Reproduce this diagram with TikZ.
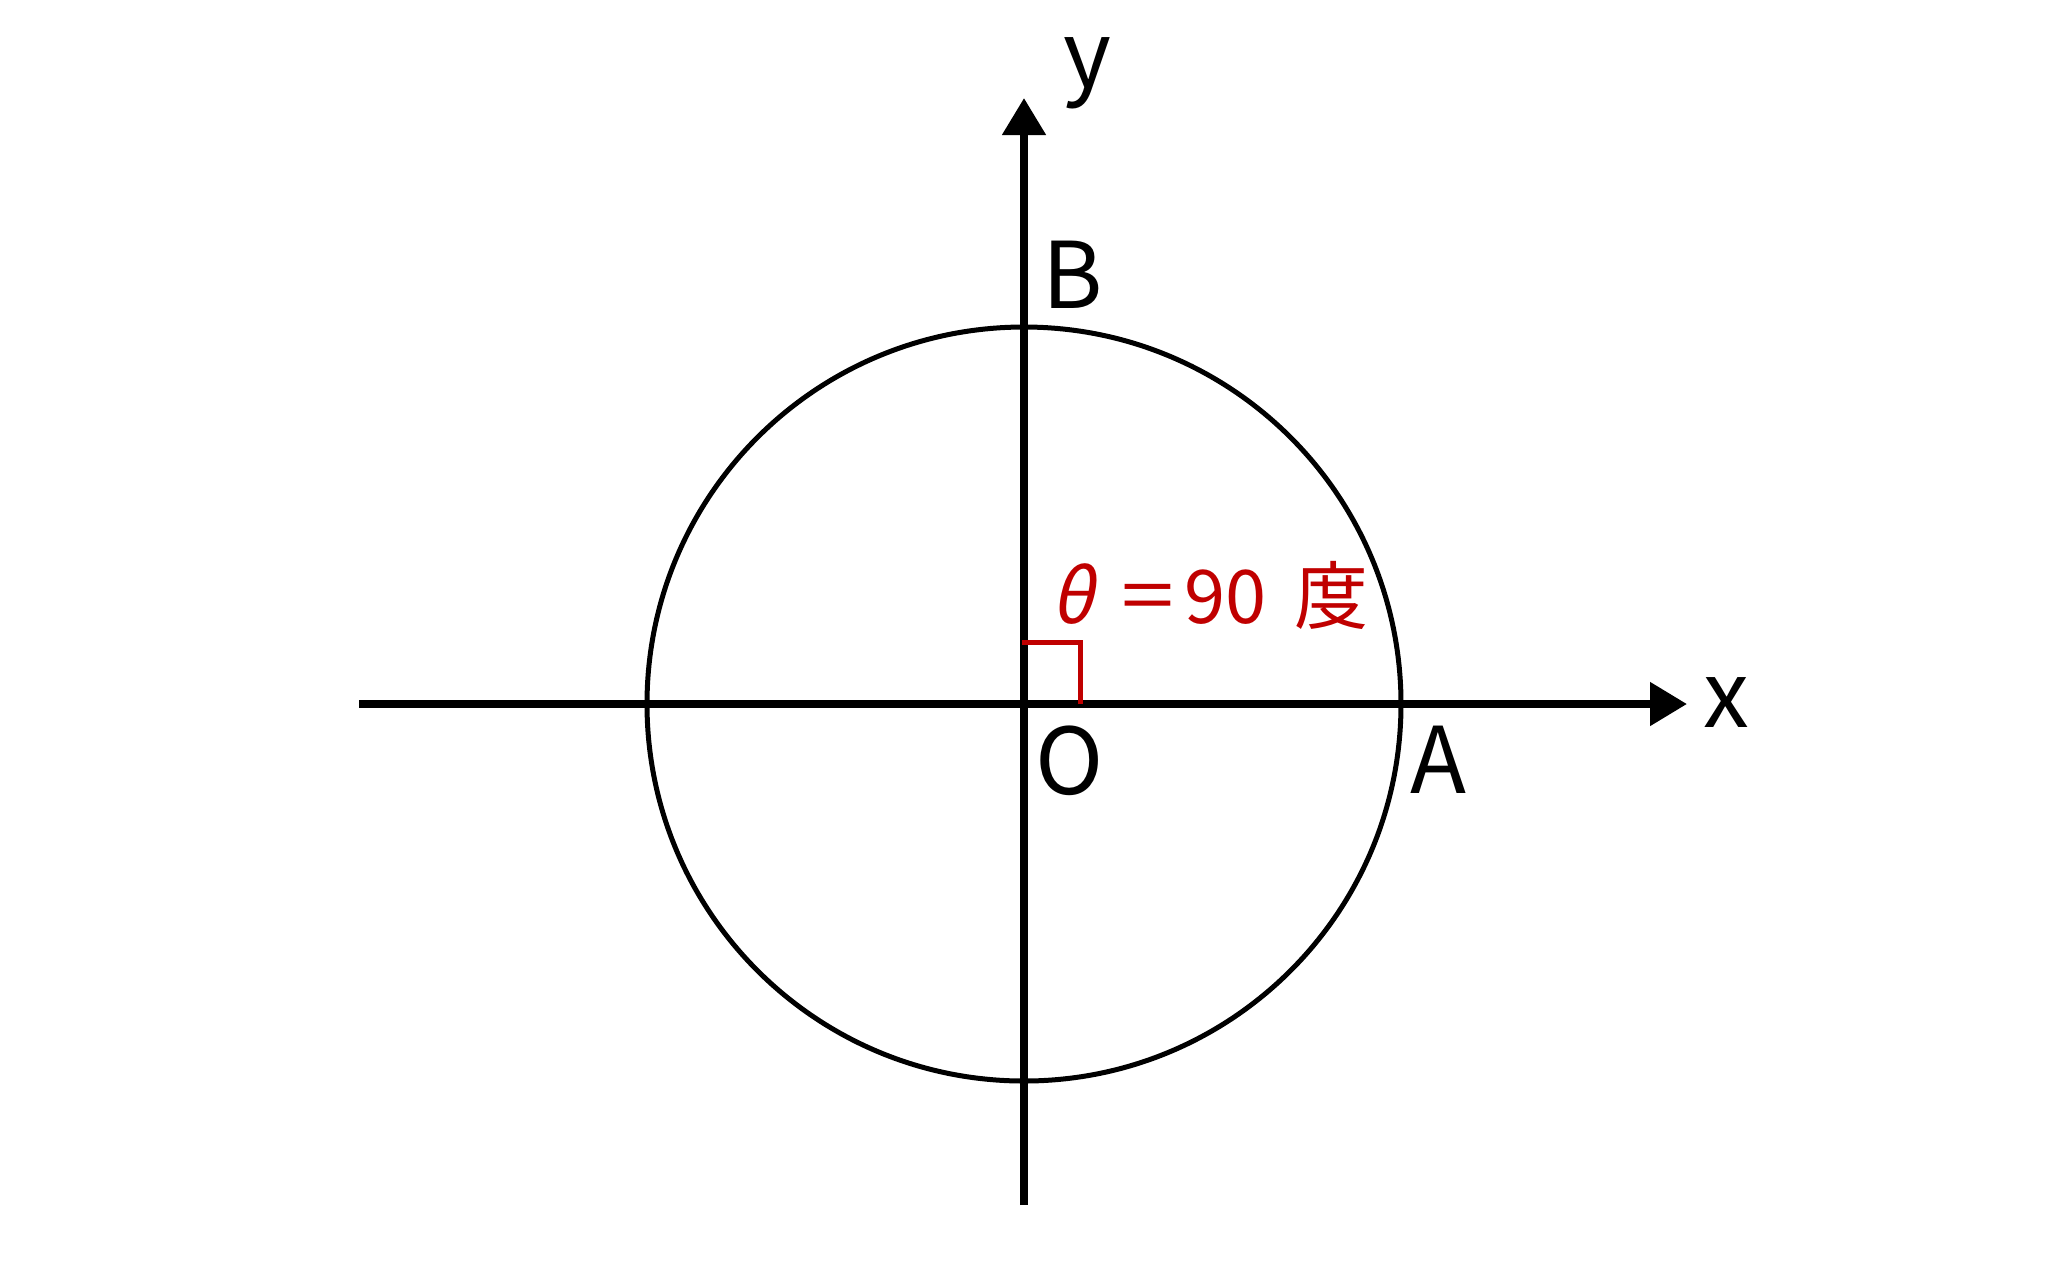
\documentclass[tikz,border=0pt]{standalone}
\usepackage{fontspec}
\usepackage{graphicx}
\setmainfont{Noto Sans CJK JP}
\newfontfamily\cjkslant[FakeSlant=0.22]{Noto Sans CJK JP}
\usetikzlibrary{arrows.meta}
\definecolor{angred}{RGB}{192,0,0}
\begin{document}
\begin{tikzpicture}[x=0.5pt,y=-0.5pt,
  axis/.style={line width=4pt,-{Triangle[length=18.5pt,width=21pt]}},
  circ/.style={line width=2.5pt},
  rmark/.style={line width=2.5pt,draw=angred},
  lbl/.style={inner sep=0pt,anchor=base west,font=\fontsize{46}{50}\selectfont},
  rlbl/.style={inner sep=0pt,anchor=base west,text=angred,font=\fontsize{37}{40}\selectfont}]
\useasboundingbox (0,0) rectangle (2048,1271);
\coordinate (O) at (1024,704);
\coordinate (xs) at (359,704);
\coordinate (xe) at (1687,704);
\coordinate (ys) at (1024,1205);
\coordinate (ye) at (1024,98);
\coordinate (m1) at (1022,642);
\coordinate (m2) at (1080,642);
\coordinate (m3) at (1080,704);
\draw[circ] (O) circle[radius=377];
\draw[axis] (xs) -- (xe);
\draw[axis] (ys) -- (ye);
\draw[rmark] (m1) -- (m2) -- (m3);
\node[lbl] (ylab) at (1063,87) {y};
\node[lbl] (xlab) at (1703,727) {x};
\node[lbl] (B) at (1042,308) {B};
\node[lbl] (Olab) at (1035,794) {O};
\node[lbl] (A) at (1410,793) {A};
\node[rlbl] (ang) at (1050,623) {\rlap{\cjkslant θ}\hspace{33pt}\rlap{\scalebox{0.85}[1]{＝}}\hspace{34pt}\rlap{90}\hspace{55pt}度};
\end{tikzpicture}
\end{document}
